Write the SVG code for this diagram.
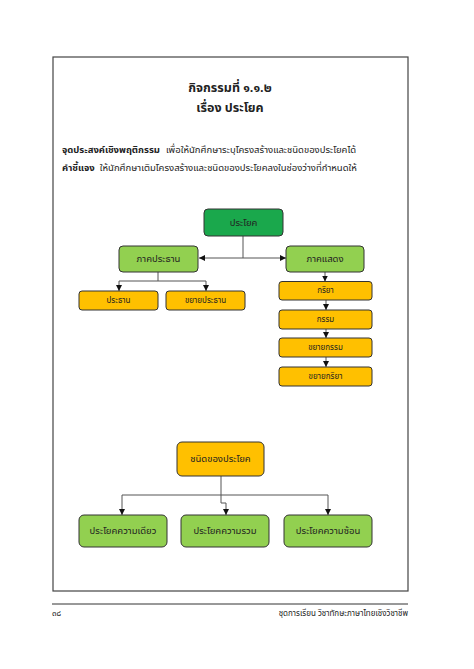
<svg xmlns="http://www.w3.org/2000/svg" width="474" height="669" viewBox="0 0 474 669">
<style>
text{font-family:"Noto Sans Thai","Noto Sans","Liberation Sans","DejaVu Sans",sans-serif;fill:#222}
.title{font-size:12.5px;font-weight:bold;text-anchor:middle}
.body{font-size:9.5px}
.b{font-weight:bold}
.lbl{text-anchor:middle;dominant-baseline:central}
.s{font-size:8px}
.m{font-size:9.5px}
.dg{fill:#1aa84c;stroke:#333;stroke-width:1}
.lg{fill:#92d050;stroke:#333;stroke-width:1}
.or{fill:#ffc000;stroke:#333;stroke-width:1}
.ln{fill:none;stroke:#555;stroke-width:1}
</style>
<defs>
<marker id="ah" viewBox="0 0 10 10" refX="10" refY="5" markerWidth="6" markerHeight="6" orient="auto" markerUnits="userSpaceOnUse">
<path d="M0,0 L10,5 L0,10 z" fill="#111"/>
</marker>
</defs>
<rect width="474" height="669" fill="#fff"/>
<rect x="53" y="57" width="355" height="534" fill="none" stroke="#444" stroke-width="1.2"/>
<text class="title" x="230" y="92">กิจกรรมที่ ๑.๑.๒</text>
<text class="title" x="230" y="112">เรื่อง ประโยค</text>
<text class="body" x="62" y="153"><tspan class="b">จุดประสงค์เชิงพฤติกรรม</tspan><tspan dx="6">เพื่อให้นักศึกษาระบุโครงสร้างและชนิดของประโยคได้</tspan></text>
<text class="body" x="62" y="171"><tspan class="b">คำชี้แจง</tspan><tspan dx="5">ให้นักศึกษาเติมโครงสร้างและชนิดของประโยคลงในช่องว่างที่กำหนดให้</tspan></text>
<g id="connectors">
<path class="ln" d="M243,236 V258 M243,258 H199" marker-end="url(#ah)"/>
<path class="ln" d="M243,258 H286" marker-end="url(#ah)"/>
<path class="ln" d="M158,272 V281 H119 V291" marker-end="url(#ah)"/>
<path class="ln" d="M158,281 H206 V291" marker-end="url(#ah)"/>
<path class="ln" d="M325,272 V281.5" marker-end="url(#ah)"/>
<path class="ln" d="M326,300 V310" marker-end="url(#ah)"/>
<path class="ln" d="M326,329 V338" marker-end="url(#ah)"/>
<path class="ln" d="M326,357 V367" marker-end="url(#ah)"/>
<path class="ln" d="M221,476 V503 H226 V515" marker-end="url(#ah)"/>
<path class="ln" d="M221,495 H122 V515" marker-end="url(#ah)"/>
<path class="ln" d="M221,495 H328 V515" marker-end="url(#ah)"/>
</g>
<g id="n-sentence"><rect class="dg" x="204" y="209" width="79" height="27" rx="4"/><text class="lbl m" x="243.5" y="222.5">ประโยค</text></g>
<g id="n-subject-part"><rect class="lg" x="119" y="246" width="79" height="26" rx="4"/><text class="lbl m" x="158.5" y="259">ภาคประธาน</text></g>
<g id="n-predicate-part"><rect class="lg" x="286" y="246" width="78" height="26" rx="4"/><text class="lbl m" x="325" y="259">ภาคแสดง</text></g>
<g id="n-subject"><rect class="or" x="79" y="291" width="79" height="19" rx="3"/><text class="lbl s" x="118.5" y="300.5">ประธาน</text></g>
<g id="n-subject-mod"><rect class="or" x="166" y="291" width="79" height="19" rx="3"/><text class="lbl s" x="205.5" y="300.5">ขยายประธาน</text></g>
<g id="n-verb"><rect class="or" x="279" y="281.5" width="93" height="18.5" rx="3"/><text class="lbl s" x="325.5" y="291">กริยา</text></g>
<g id="n-object"><rect class="or" x="279" y="310" width="93" height="19" rx="3"/><text class="lbl s" x="325.5" y="319.5">กรรม</text></g>
<g id="n-object-mod"><rect class="or" x="279" y="338" width="93" height="19" rx="3"/><text class="lbl s" x="325.5" y="347.5">ขยายกรรม</text></g>
<g id="n-verb-mod"><rect class="or" x="279" y="367" width="93" height="19" rx="3"/><text class="lbl s" x="325.5" y="376.5">ขยายกริยา</text></g>
<g id="n-types"><rect class="or" x="177" y="442" width="87" height="34" rx="5"/><text class="lbl m" x="220.5" y="459">ชนิดของประโยค</text></g>
<g id="n-simple"><rect class="lg" x="79" y="515" width="88" height="32" rx="5"/><text class="lbl m" x="123" y="531">ประโยคความเดียว</text></g>
<g id="n-compound"><rect class="lg" x="181" y="515" width="88" height="32" rx="5"/><text class="lbl m" x="225" y="531">ประโยคความรวม</text></g>
<g id="n-complex"><rect class="lg" x="284" y="515" width="88" height="32" rx="5"/><text class="lbl m" x="328" y="531">ประโยคความซ้อน</text></g>
<line x1="52" y1="604" x2="408" y2="604" stroke="#333" stroke-width="1"/>
<text x="52" y="616" style="font-size:8px">๓๘</text>
<text x="408" y="616" style="font-size:8px;text-anchor:end">ชุดการเรียน วิชาทักษะภาษาไทยเชิงวิชาชีพ</text>
</svg>
